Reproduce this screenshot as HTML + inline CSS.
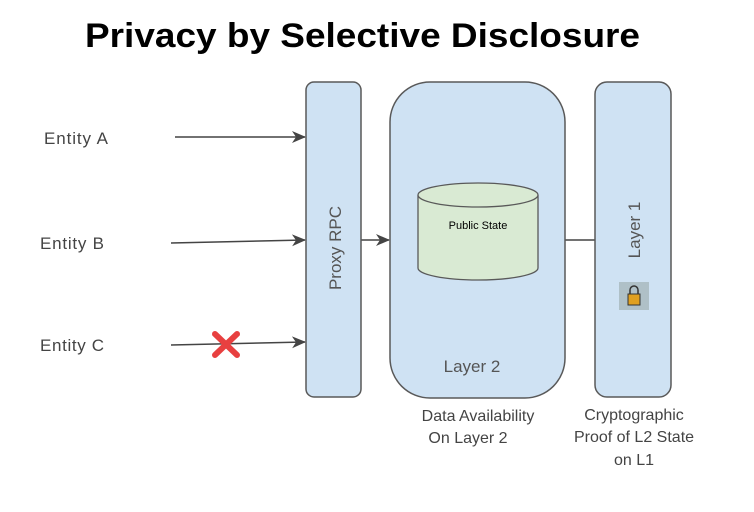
<!DOCTYPE html>
<html><head><style>
body{margin:0;width:754px;height:512px;background:#fff;overflow:hidden}
svg{display:block}
text{font-family:"Liberation Sans",Arial,sans-serif}
</style></head><body>
<svg width="754" height="512" viewBox="0 0 754 512">
<defs><marker id="ah" markerWidth="14" markerHeight="12" refX="13" refY="6" orient="auto" markerUnits="userSpaceOnUse"><path d="M0,0 L14,6 L0,12 L4,6 Z" fill="#444"/></marker></defs>
<text x="85" y="47" textLength="555" lengthAdjust="spacingAndGlyphs" font-size="34" font-weight="bold" fill="#000">Privacy by Selective Disclosure</text>
<text x="44" y="144" font-size="17" fill="#444" textLength="64">Entity A</text>
<text x="40" y="249" font-size="17" fill="#444" textLength="64">Entity B</text>
<text x="40" y="351" font-size="17" fill="#444" textLength="64">Entity C</text>
<g stroke="#444" stroke-width="1.5" fill="none">
<line x1="175" y1="137" x2="305" y2="137" marker-end="url(#ah)"/>
<line x1="171" y1="243" x2="305" y2="240" marker-end="url(#ah)"/>
<line x1="171" y1="345" x2="305" y2="342" marker-end="url(#ah)"/>
<line x1="361" y1="240" x2="389" y2="240" marker-end="url(#ah)"/>
<line x1="565" y1="240" x2="595" y2="240"/>
</g>
<g stroke="#e84040" stroke-width="6" stroke-linecap="round">
<line x1="215" y1="334" x2="237" y2="355"/><line x1="237" y1="334" x2="215" y2="355"/>
</g>
<g fill="#cfe2f3" stroke="#595959" stroke-width="1.5">
<rect x="306" y="82" width="55" height="315" rx="8"/>
<rect x="390" y="82" width="175" height="316" rx="40"/>
<rect x="595" y="82" width="76" height="315" rx="12"/>
</g>
<g fill="#d9ead3" stroke="#595959" stroke-width="1.3">
<path d="M418,195 L418,268 A60,12 0 0 0 538,268 L538,195"/>
<ellipse cx="478" cy="195" rx="60" ry="12"/>
</g>
<text x="478" y="229" text-anchor="middle" font-size="11" fill="#000">Public State</text>
<text transform="translate(341,248) rotate(-90)" text-anchor="middle" font-size="17" fill="#555">Proxy RPC</text>
<text transform="translate(640,230) rotate(-90)" text-anchor="middle" font-size="17" fill="#555">Layer 1</text>
<text x="472" y="372" text-anchor="middle" font-size="17" fill="#555">Layer 2</text>
<rect x="619" y="282" width="30" height="28" fill="#9aa" opacity="0.6"/>
<rect x="628" y="294" width="12" height="11" fill="#e0a020" stroke="#333" stroke-width="1"/>
<path d="M630,294 v-4 a4,4 0 0 1 8,0 v4" fill="none" stroke="#333" stroke-width="1.5"/>
<g font-size="16" fill="#444" text-anchor="middle">
<text x="478" y="421">Data Availability</text>
<text x="468" y="443">On Layer 2</text>
<text x="634" y="420">Cryptographic</text>
<text x="634" y="442">Proof of L2 State</text>
<text x="634" y="465">on L1</text>
</g>
</svg>
</body></html>
